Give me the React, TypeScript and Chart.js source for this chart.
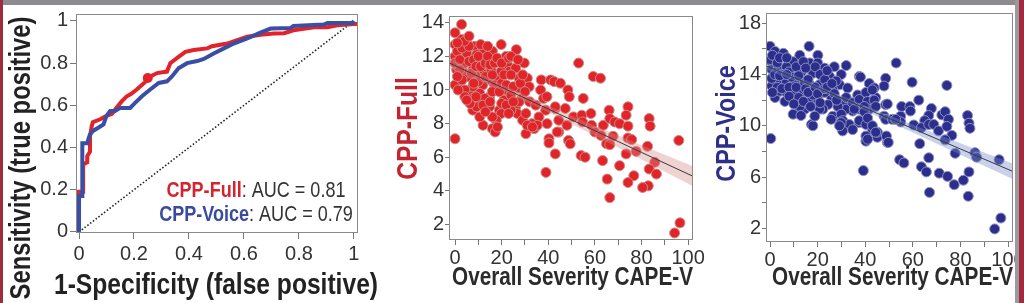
import React, { useEffect, useRef } from "react";
import { Chart, registerables } from "chart.js";

Chart.register(...registerables);

const FONT = "'Liberation Sans', Arial, sans-serif";
const NARROW = 0.82;

// ---------- ROC panel data ----------
const rocFullFpr = [0, 0, 0.015, 0.015, 0.03, 0.03, 0.04, 0.04, 0.046, 0.05, 0.077, 0.1, 0.12, 0.137, 0.156, 0.174, 0.19, 0.21, 0.24, 0.25, 0.265, 0.284, 0.32, 0.332, 0.362, 0.387, 0.417, 0.466, 0.484, 0.539, 0.612, 0.66, 0.709, 0.746, 0.78, 0.855, 0.904, 0.94, 1.015];
const rocFullTpr = [0, 0.19, 0.19, 0.32, 0.33, 0.36, 0.38, 0.45, 0.5, 0.52, 0.534, 0.55, 0.56, 0.59, 0.62, 0.643, 0.655, 0.675, 0.71, 0.73, 0.74, 0.753, 0.76, 0.8, 0.83, 0.854, 0.862, 0.87, 0.88, 0.893, 0.925, 0.935, 0.94, 0.942, 0.956, 0.97, 0.97, 0.98, 0.987];
const rocFullCutoffIndex = 19;
const rocVoiceFpr = [0, 0, 0.012, 0.012, 0.03, 0.034, 0.04, 0.052, 0.07, 0.089, 0.1, 0.113, 0.131, 0.15, 0.186, 0.204, 0.229, 0.259, 0.29, 0.32, 0.338, 0.362, 0.393, 0.43, 0.454, 0.49, 0.527, 0.563, 0.612, 0.66, 0.697, 0.77, 0.78, 0.89, 0.904, 0.995, 1.0];
const rocVoiceTpr = [0, 0.17, 0.17, 0.42, 0.42, 0.44, 0.463, 0.48, 0.494, 0.51, 0.55, 0.573, 0.573, 0.588, 0.588, 0.612, 0.643, 0.675, 0.706, 0.714, 0.737, 0.776, 0.8, 0.81, 0.82, 0.846, 0.87, 0.893, 0.917, 0.945, 0.964, 0.967, 0.976, 0.983, 0.99, 0.99, 1.0];
const chanceLine = [0, 1];
const rocTicks = [0, 0.2, 0.4, 0.6, 0.8, 1];
const aucFull = "0.81";
const aucVoice = "0.79";

// ---------- CPP-Full scatter (severity, CPP) ----------
const fullPoints = [
  [2.8, 13.9], [0, 13.4], [0, 12.7], [2.8, 13.0], [5, 12.8], [8.5, 12.6], [11.9, 12.4], [16, 12.3], [19.8, 12.7], [26.3, 12.4],
  [29.7, 11.6], [21.9, 12.0], [22.5, 11.5], [23.3, 11.1], [26, 11.3], [27.5, 10.7], [31, 10.7], [31.8, 10.2], [27.5, 10.1], [26, 9.0],
  [26.7, 8.6], [24, 8.8], [19, 8.8], [19.8, 8.6], [17.7, 8.2], [12, 7.9], [17.7, 7.8], [16, 7.7], [17.2, 7.5], [28.8, 9.5],
  [27.5, 9.3], [21, 9.4], [14.8, 9.0], [10.6, 9.3], [7.6, 8.8], [9.2, 9.0], [7, 9.8], [2.1, 10.4], [0, 10.3], [0.7, 11.2],
  [0, 12.0], [0, 11.6], [7.6, 11.2], [11.9, 11.0], [14.8, 10.6], [11.9, 10.3], [7.6, 10.2], [10.6, 9.8], [14.8, 9.6], [18.2, 10.0],
  [18.2, 10.7], [15.5, 11.2], [19.8, 11.1], [11.9, 11.8], [9.2, 12.1], [5, 12.2], [3.4, 11.5], [5.5, 10.8], [4.2, 10.0], [9.2, 10.8],
  [12.7, 9.5], [7.6, 9.5], [6.4, 9.2], [4.2, 9.6], [1.3, 10.0], [21.9, 10.0], [24, 9.7], [16, 8.4], [10.6, 8.4], [0, 7.1],
  [30.4, 7.4], [18.2, 7.8], [1, 12.3], [2, 11.8], [3, 12.5], [4, 11.0], [6, 11.7], [6, 12.6], [7, 11.0], [8, 11.8],
  [9, 11.4], [10, 12.0], [10, 10.5], [11, 11.4], [13, 11.6], [13, 10.8], [14, 12.0], [15, 11.5], [16, 10.9], [17, 11.6],
  [17, 10.3], [18, 11.9], [20, 11.6], [20, 10.4], [21, 10.9], [22, 10.3], [23, 11.9], [24, 10.9], [25, 10.2], [3, 10.6],
  [5, 9.4], [8, 10.4], [9, 9.6], [12, 9.1], [13, 8.7], [15, 9.3], [16, 9.9], [19, 9.9], [20, 9.2], [22, 9.1],
  [23, 8.6], [25, 9.3], [28, 10.4], [29, 10.9], [2, 11.2], [1, 10.8], [4, 12.9], [6, 13.2], [1, 12.8], [11, 12.7],
  [14, 12.6], [24, 12.0], [27, 11.8], [30, 9.9], [29, 8.2], [32, 9.3],
  [37, 10.6], [36.7, 10.0], [38, 9.5], [39.4, 9.6], [34.6, 9.1], [38.9, 8.8], [36, 8.4], [33, 8.0], [33.9, 7.7], [31, 7.9],
  [30.4, 8.6], [35.3, 7.9], [33.2, 7.8], [39, 5.1], [39.5, 8.0],
  [53, 11.6], [59.3, 10.8], [62.4, 10.7], [41, 10.6], [42.5, 10.5], [45.2, 10.4], [48.4, 10.0], [49, 9.6], [55, 9.5], [47.3, 8.9],
  [50.8, 8.4], [54.4, 8.5], [58.3, 8.6], [54.7, 8.1], [58.6, 7.9], [63.6, 7.9], [66.1, 8.8], [66.4, 8.3], [68.5, 8.1], [70.6, 8.0],
  [74.2, 9.0], [73.4, 8.5], [74.2, 7.85], [83.3, 8.3], [83.7, 7.85], [96, 7.0], [60, 7.5], [62.6, 7.3], [67.8, 7.25], [74.2, 7.15],
  [75.8, 7.05], [48.7, 7.0], [49.4, 6.8], [65, 6.8], [66.4, 6.75], [77.7, 6.35], [82.6, 6.65], [73.4, 6.2], [54.1, 6.1], [55.8, 6.0],
  [63.3, 5.8], [70.6, 5.5], [85.7, 5.7], [83.3, 5.3], [86.4, 5.0], [65.3, 4.7], [76.7, 4.9], [74.2, 4.5], [82.9, 4.3], [80.5, 4.2],
  [66.4, 3.6], [96.5, 2.1], [94.2, 1.5], [44.5, 8.2], [44.5, 7.5], [48, 7.9], [43, 8.9], [43, 6.2], [40.3, 7.1], [40.3, 6.85],
  [43.8, 7.5], [43, 9.0]
];

// ---------- CPP-Voice scatter (severity, CPP) ----------
const voicePoints = [
  [0.3, 9.0], [16.4, 16.2], [0, 16.2], [2.1, 15.8], [5.6, 15.65], [12.5, 15.5], [20.1, 15.5], [9.7, 15.0], [16.7, 14.9], [20, 14.9],
  [22.9, 14.5], [27, 14.6], [32, 14.7], [0, 15.1], [0.7, 14.4], [3.5, 14.5], [6.9, 14.6], [13.2, 14.2], [18, 14.1], [25, 13.85],
  [29.9, 14.0], [29.2, 13.2], [32.6, 12.95], [27.8, 13.5], [37.5, 13.85], [34.7, 11.15], [31.2, 11.9], [32, 11.3], [28.5, 11.5], [25.7, 12.3],
  [24.3, 11.65], [22.2, 11.3], [26.4, 10.75], [29.9, 10.9], [25.7, 10.5], [30.5, 10.4], [33.3, 10.1], [30.5, 9.6], [37.5, 10.25], [17.4, 10.1],
  [18, 10.0], [20.8, 11.3], [18.8, 10.75], [14.6, 11.3], [11.1, 11.0], [9.7, 10.9], [12.5, 11.5], [16.7, 11.9], [20.1, 12.05], [9.7, 12.05],
  [6.25, 11.9], [2.1, 12.2], [4.2, 12.7], [6.9, 12.6], [10.4, 12.6], [13.9, 12.7], [13.9, 13.3], [10.4, 13.5], [6.25, 13.3], [2.8, 13.5],
  [0.7, 13.1], [0.7, 13.7], [17.4, 13.1], [20.8, 13.2], [22.9, 12.6], [18, 12.4], [26.4, 12.8], [32, 12.2], [34.7, 11.8], [36.8, 12.4],
  [37.5, 12.05], [37.5, 11.3], [29.9, 10.25], [34.7, 9.7], [29.2, 10.0], [39.2, 6.5], [40.3, 8.8], [41, 9.1], [43.75, 9.35], [45.1, 9.1],
  [49.3, 8.7], [37.5, 10.4], [35.4, 11.3],
  [1, 15.5], [3, 14.9], [4, 15.3], [5, 14.0], [7, 15.3], [8, 14.2], [9, 13.8], [11, 14.6], [12, 13.9], [14, 15.0],
  [15, 14.5], [16, 13.6], [19, 14.6], [21, 14.0], [23, 13.6], [24, 14.3], [2, 14.0], [3, 13.0], [5, 12.9], [8, 13.0],
  [11, 13.0], [12, 12.2], [15, 12.9], [16, 12.6], [19, 13.0], [20, 12.5], [21, 11.8], [23, 12.9], [24, 13.0], [26, 13.3],
  [27, 12.5], [28, 12.0], [8, 12.3], [14, 11.9], [17, 11.5], [10, 11.7], [13, 10.8], [4, 13.9], [1, 12.6], [7, 14.0],
  [41.7, 13.3], [43.8, 12.95], [48.6, 13.7], [47.9, 13.1], [44.4, 12.2], [40.3, 12.6], [41, 11.9], [48.6, 11.65], [41.7, 11.3], [40.3, 10.1],
  [43, 9.6], [45.1, 9.5], [40.3, 9.2], [53, 14.9], [59.7, 13.4], [74.3, 13.15], [62.5, 12.0], [55.3, 11.5], [58.75, 11.5], [59, 11.15],
  [49.3, 11.7], [54.9, 10.75], [47.9, 10.75], [48.6, 10.5], [51.4, 10.5], [54.9, 10.3], [60.4, 10.06], [67.8, 11.35], [66.7, 10.8], [65, 10.4],
  [63.6, 9.85], [66.7, 10.1], [68.8, 10.1], [70.8, 9.6], [72.2, 10.85], [73.6, 11.1], [75, 10.5], [74.3, 9.95], [76.4, 9.25], [73.6, 8.9],
  [83, 10.8], [83.6, 10.2], [84, 9.8], [48.9, 9.2], [49.7, 8.7], [62.9, 8.6], [77.8, 7.85], [54.45, 7.35], [56.25, 7.1], [66.7, 7.5],
  [63.6, 6.8], [65.7, 6.4], [71.1, 6.3], [74.6, 6.05], [77.4, 5.4], [81.25, 5.75], [83.6, 6.4], [86.1, 7.9], [86.8, 7.55], [96.25, 7.35],
  [67, 4.8], [83.3, 4.5], [97, 2.8], [94.4, 1.95], [39.6, 11.5], [39.6, 11.1], [41, 10.6], [43, 10.0], [44.4, 9.5], [41, 8.95],
  [38, 13.8], [43, 12.8], [43.8, 12.0], [44.4, 11.5], [52.8, 10.5]
];

// ---------- regression fits with confidence bands ----------
const fitSeverity = [-3, 20, 40, 60, 80, 103];
const fullFit = [11.64, 10.16, 8.87, 7.58, 6.29, 4.81];
const fullUpper = [11.96, 10.34, 9.07, 7.88, 6.71, 5.41];
const fullLower = [11.32, 9.98, 8.67, 7.28, 5.87, 4.21];
const voiceFit = [14.79, 12.96, 11.37, 9.78, 8.19, 6.36];
const voiceUpper = [15.09, 13.14, 11.57, 10.08, 8.64, 6.98];
const voiceLower = [14.49, 12.78, 11.17, 9.48, 7.74, 5.74];

const severityTicks = [0, 10, 20, 30, 40, 50, 60, 70, 80, 90, 100];
const fullCppTicks = [2, 4, 6, 8, 10, 12, 14];
const voiceCppTicks = [2, 4, 6, 8, 10, 12, 14, 16, 18];
const voiceCppLabels = [2, 6, 10, 14, 18];

const RED = "#e2232a";
const BLUE = "#2b2e8a";

type Part = { text: string; color: string; bold?: boolean };
type TextItem = { parts: Part[]; x: number; y: number; size: number; rotate?: boolean };

function makeTextPlugin(items: TextItem[]) {
  return {
    id: "texts",
    afterDraw(chart: any) {
      const ctx = chart.ctx;
      items.forEach((it) => {
        ctx.save();
        ctx.translate(it.x, it.y);
        if (it.rotate) ctx.rotate(-Math.PI / 2);
        ctx.scale(NARROW, 1);
        ctx.textBaseline = "alphabetic";
        ctx.textAlign = "left";
        const fonts = it.parts.map((p) => `${p.bold ? "bold " : ""}${it.size}px ${FONT}`);
        const widths = it.parts.map((p, i) => {
          ctx.font = fonts[i];
          return ctx.measureText(p.text).width;
        });
        const total = widths.reduce((a, b) => a + b, 0);
        let cx = -total / 2;
        it.parts.forEach((p, i) => {
          ctx.font = fonts[i];
          ctx.fillStyle = p.color;
          ctx.fillText(p.text, cx, 0);
          cx += widths[i];
        });
        ctx.restore();
      });
    },
  };
}

const framePlugin = {
  id: "frame",
  afterDatasetsDraw(chart: any) {
    const { ctx, chartArea: a } = chart;
    ctx.save();
    ctx.strokeStyle = "#8a8a8a";
    ctx.lineWidth = 1;
    ctx.strokeRect(Math.round(a.left) + 0.5, Math.round(a.top) + 0.5, Math.round(a.width) - 1, Math.round(a.height) - 1);
    ctx.restore();
  },
};

function axis(o: {
  min: number; max: number; ticks: number[]; label: (v: number) => string;
  fit: number; horizontal: boolean; tickLength: number; padding: number; size: number;
}) {
  return {
    type: "linear",
    min: o.min,
    max: o.max,
    afterBuildTicks: (s: any) => {
      s.ticks = o.ticks.map((v) => ({ value: v }));
    },
    afterFit: (s: any) => {
      if (o.horizontal) s.height = o.fit;
      else s.width = o.fit;
    },
    grid: { display: true, drawOnChartArea: false, drawTicks: true, tickLength: o.tickLength, color: "#777", lineWidth: 1 },
    border: { display: false },
    ticks: {
      autoSkip: false,
      maxRotation: 0,
      minRotation: 0,
      padding: o.padding,
      color: "#333",
      font: { family: FONT, size: o.size },
      callback: (v: any) => o.label(Number(v)),
    },
  };
}

const baseOptions = (padding: any, scales: any) => ({
  animation: false,
  responsive: false,
  maintainAspectRatio: false,
  events: [],
  layout: { padding },
  plugins: { legend: { display: false }, tooltip: { enabled: false } },
  scales,
});

const pairs = (xs: number[], ys: number[]) => xs.map((x, i) => ({ x, y: ys[i] }));

function rocConfig(): any {
  return {
    type: "line",
    data: {
      datasets: [
        {
          data: pairs(chanceLine, chanceLine),
          borderColor: "#222",
          borderWidth: 1.6,
          borderDash: [1.5, 2],
          pointRadius: 0,
          order: 3,
        },
        {
          data: pairs(rocFullFpr, rocFullTpr),
          borderColor: "#e3232c",
          backgroundColor: "#e3232c",
          borderWidth: 4,
          pointRadius: rocFullFpr.map((_, i) => (i === rocFullCutoffIndex ? 5 : 0)),
          pointBorderWidth: 0,
          order: 2,
        },
        {
          data: pairs(rocVoiceFpr, rocVoiceTpr),
          borderColor: "#3a4ea3",
          borderWidth: 4,
          pointRadius: 0,
          order: 1,
        },
      ],
    },
    options: baseOptions(
      { left: 0, right: 22, top: 12, bottom: 0 },
      {
        x: axis({ min: -0.011, max: 1.015, ticks: rocTicks, label: (v) => String(v), fit: 70, horizontal: true, tickLength: 6, padding: 3, size: 20 }),
        y: axis({ min: -0.005, max: 1.033, ticks: rocTicks, label: (v) => String(v), fit: 76, horizontal: false, tickLength: 6, padding: 2, size: 20 }),
      }
    ),
    plugins: [
      framePlugin,
      makeTextPlugin([
        { parts: [{ text: "Sensitivity (true positive)", color: "#222", bold: true }], x: 29.5, y: 158, size: 29, rotate: true },
        { parts: [{ text: "1-Specificity (false positive)", color: "#222", bold: true }], x: 216, y: 294, size: 30 },
        { parts: [{ text: "CPP-Full", color: "#d4252f", bold: true }, { text: ": AUC = " + aucFull, color: "#333" }], x: 256, y: 197, size: 22 },
        { parts: [{ text: "CPP-Voice", color: "#3a4a9f", bold: true }, { text: ": AUC = " + aucVoice, color: "#333" }], x: 256, y: 221, size: 22 },
      ]),
    ],
  };
}

function scatterConfig(o: {
  points: number[][]; fill: string; border: string; fit: number[]; upper: number[]; lower: number[]; band: string;
  xMin: number; yMin: number; yMax: number; yTicks: number[]; yLabels: number[]; padding: any; yFit: number; xFit: number;
  title: string; titleColor: string; titleX: number; titleY: number; titleSize: number;
}): any {
  return {
    type: "line",
    data: {
      datasets: [
        {
          data: o.points.map(([x, y]) => ({ x, y })),
          showLine: false,
          pointRadius: 5,
          pointBackgroundColor: o.fill,
          pointBorderColor: o.border,
          pointBorderWidth: 1,
          order: 4,
        },
        {
          data: pairs(fitSeverity, o.upper),
          borderWidth: 0,
          pointRadius: 0,
          fill: "+1",
          backgroundColor: o.band,
          order: 3,
        },
        {
          data: pairs(fitSeverity, o.lower),
          borderWidth: 0,
          pointRadius: 0,
          fill: false,
          order: 3,
        },
        {
          data: pairs(fitSeverity, o.fit),
          borderColor: "#3a3a3a",
          borderWidth: 1,
          pointRadius: 0,
          order: 1,
        },
      ],
    },
    options: baseOptions(o.padding, {
      x: axis({
        min: o.xMin, max: 102.1, ticks: severityTicks, label: (v) => (v % 20 === 0 ? String(v) : ""),
        fit: o.xFit, horizontal: true, tickLength: 5, padding: 1, size: 20,
      }),
      y: axis({
        min: o.yMin, max: o.yMax, ticks: o.yTicks, label: (v) => (o.yLabels.includes(v) ? String(v) : ""),
        fit: o.yFit, horizontal: false, tickLength: 4, padding: 1, size: 20,
      }),
    }),
    plugins: [
      framePlugin,
      makeTextPlugin([
        { parts: [{ text: o.title, color: o.titleColor, bold: true }], x: o.titleX, y: o.titleY, size: o.titleSize, rotate: true },
        { parts: [{ text: "Overall Severity CAPE-V", color: "#2b2b2b", bold: true }], x: 192.5, y: 285, size: 25.3 },
      ]),
    ],
  };
}

function Panel({ left, width, config }: { left: number; width: number; config: () => any }) {
  const ref = useRef<HTMLCanvasElement>(null);
  useEffect(() => {
    const chart = new Chart(ref.current as HTMLCanvasElement, config());
    return () => chart.destroy();
  }, []);
  return (
    <canvas
      ref={ref}
      width={width}
      height={303}
      style={{ position: "absolute", left, top: 0, width, height: 303 }}
    />
  );
}

export default function App() {
  return (
    <div
      style={{
        position: "fixed",
        left: 0,
        top: 0,
        width: 1024,
        height: 303,
        overflow: "hidden",
        background: "#ffffff",
      }}
    >
      <Panel left={0} width={380} config={rocConfig} />
      <Panel
        left={380}
        width={332}
        config={() =>
          scatterConfig({
            points: fullPoints, fill: RED, border: "#c98d84", fit: fullFit, upper: fullUpper, lower: fullLower,
            band: "rgba(214,140,140,0.38)", xMin: -2.6, yMin: 1.08, yMax: 14.4, yTicks: fullCppTicks, yLabels: fullCppTicks,
            padding: { left: 0, right: 19, top: 16, bottom: 0 }, yFit: 69, xFit: 63,
            title: "CPP-Full", titleColor: "#c42330", titleX: 36.7, titleY: 128.5, titleSize: 30,
          })
        }
      />
      <Panel
        left={700}
        width={340}
        config={() =>
          scatterConfig({
            points: voicePoints, fill: BLUE, border: "#8e90c6", fit: voiceFit, upper: voiceUpper, lower: voiceLower,
            band: "rgba(120,140,205,0.4)", xMin: -1.7, yMin: 0.93, yMax: 18.8, yTicks: voiceCppTicks, yLabels: voiceCppLabels,
            padding: { left: 0, right: 27, top: 13, bottom: 0 }, yFit: 66, xFit: 61,
            title: "CPP-Voice", titleColor: "#2e2f86", titleX: 35, titleY: 123.5, titleSize: 28.5,
          })
        }
      />
      <div style={{ position: "absolute", left: 0, top: 0, width: 1024, height: 5, background: "#8c8c90" }} />
      <div style={{ position: "absolute", left: 0, top: 0, width: 3, height: 303, background: "#9e2b3b" }} />
      <div style={{ position: "absolute", left: 1015, top: 0, width: 4, height: 303, background: "#9a9a9e" }} />
      <div style={{ position: "absolute", left: 1019, top: 0, width: 5, height: 303, background: "#a32a3e" }} />
    </div>
  );
}
